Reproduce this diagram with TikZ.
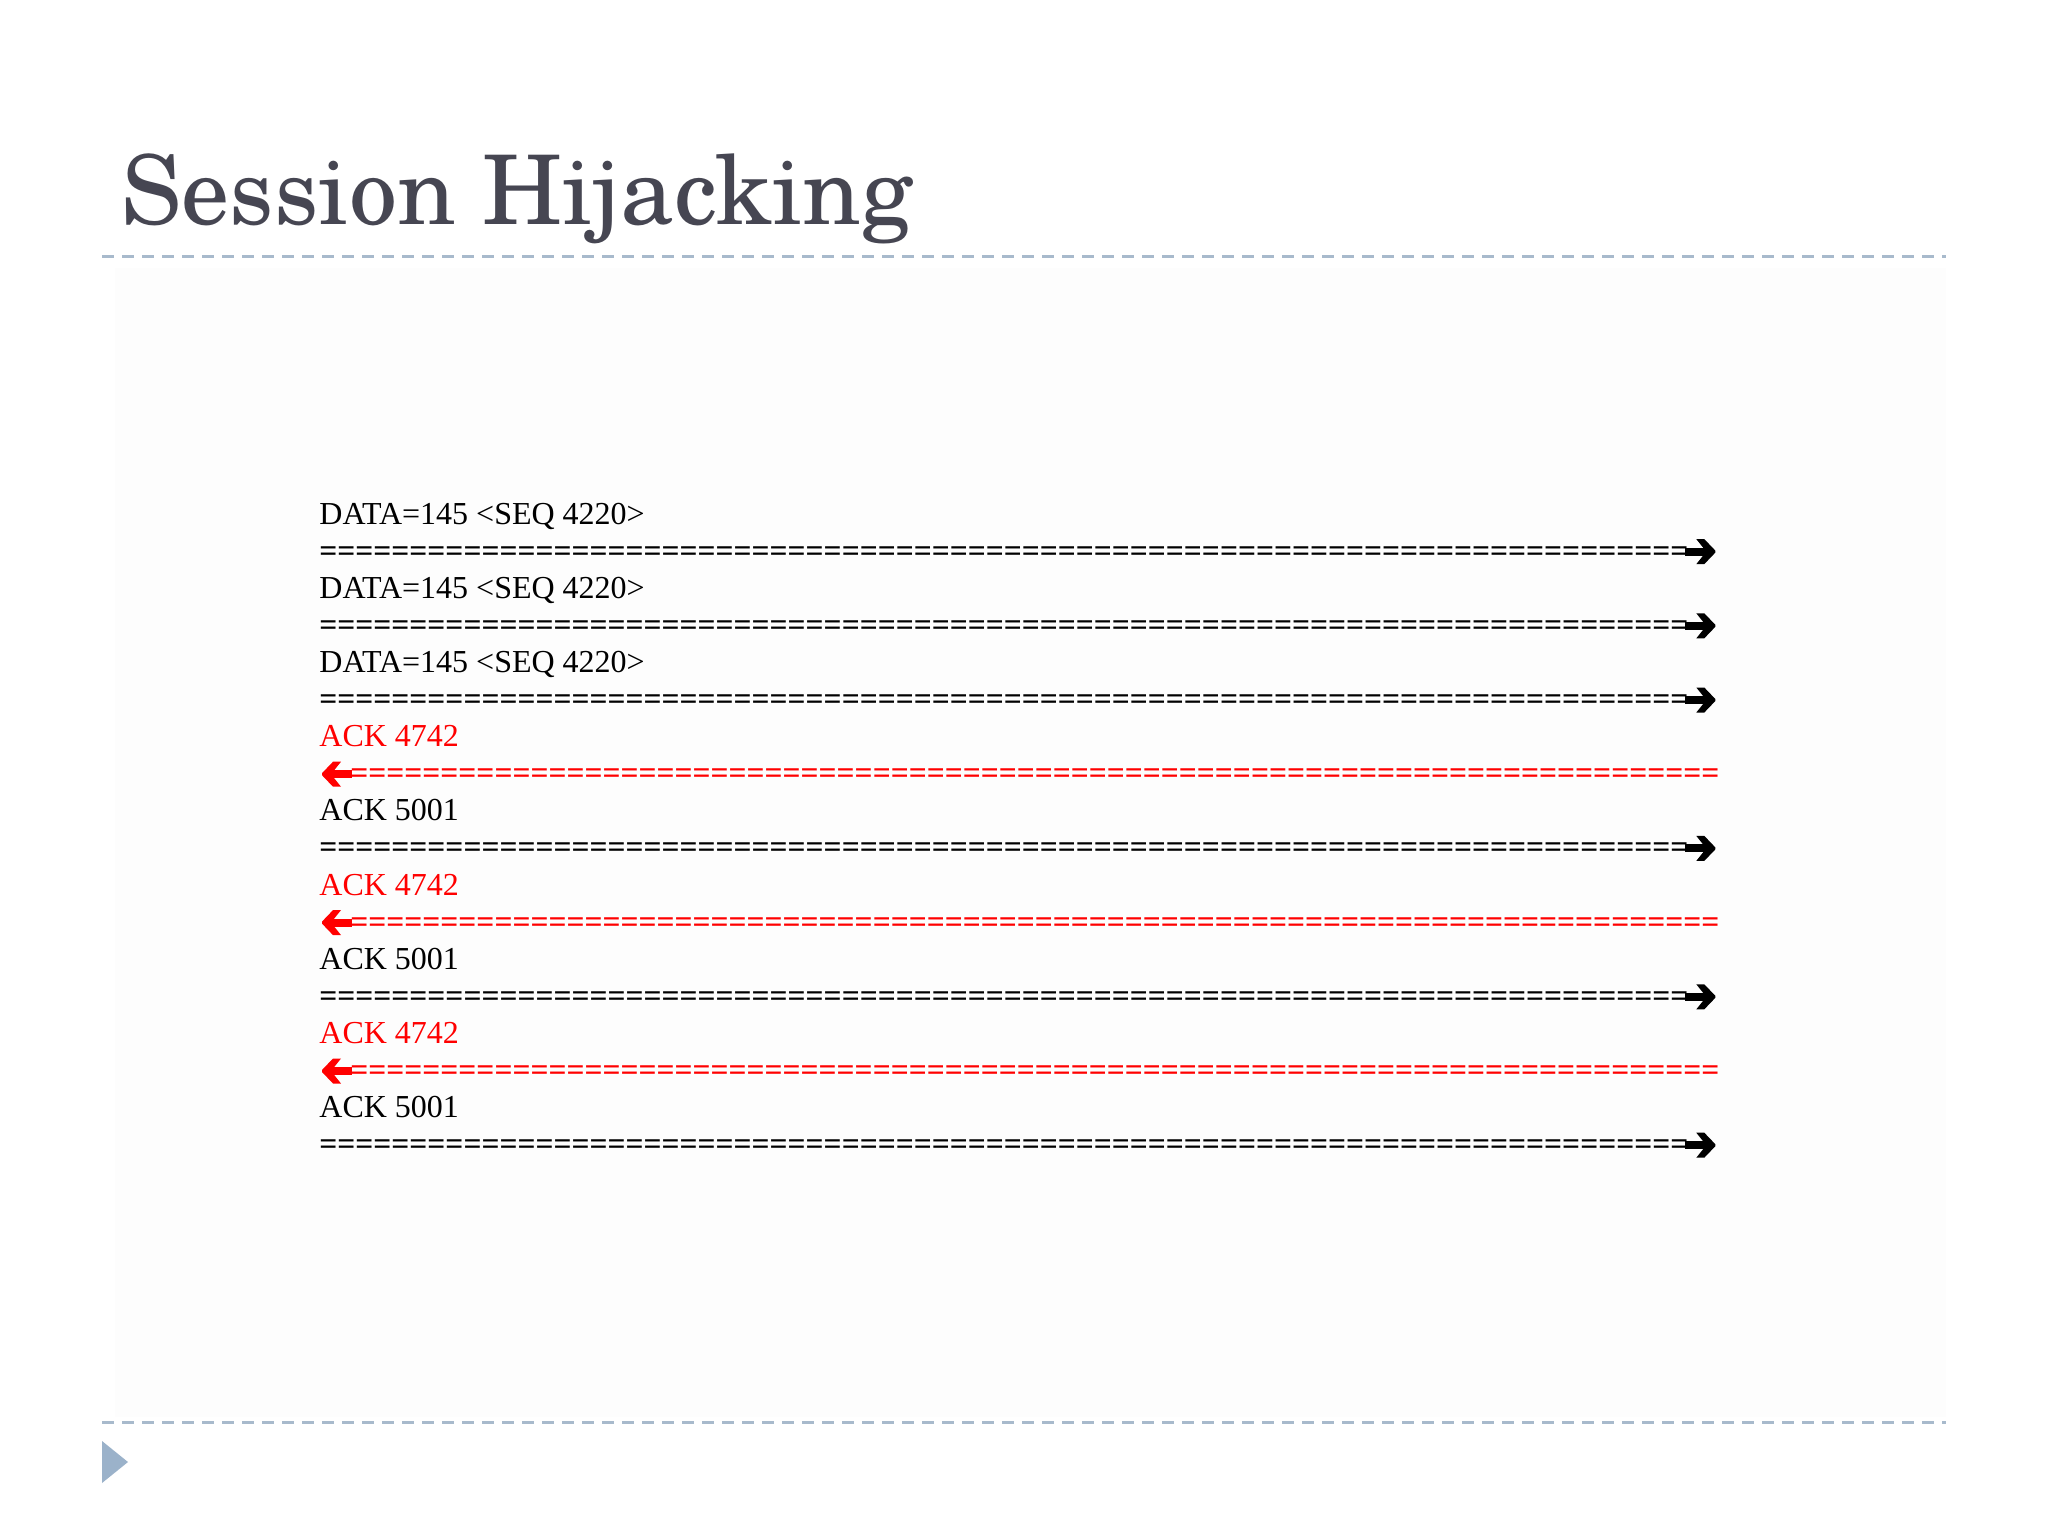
\documentclass[tikz,border=0pt]{standalone}
\usepackage{fontspec}
\setmainfont{Liberation Serif}
\newfontfamily\titlefont{TeX Gyre Schola}
\usetikzlibrary{calc}
\definecolor{titlegray}{RGB}{70,70,82}
\definecolor{rulecol}{RGB}{168,186,204}
\definecolor{tricol}{RGB}{155,178,202}
\definecolor{pagebg}{RGB}{253,253,253}
\definecolor{ackred}{RGB}{255,0,0}
\newcommand\myeqten{==========}
\newcommand\myeqrow{\myeqten\myeqten\myeqten\myeqten\myeqten\myeqten\myeqten======}
\tikzset{
  rowtext/.style={anchor=base west, inner sep=0pt, font=\fontsize{16}{19}\selectfont},
  eqtext/.style={anchor=base west, inner sep=0pt, font=\fontsize{15.8}{19}\selectfont\bfseries},
  blk/.style={rowtext, text=black},
  rd/.style={rowtext, text=ackred},
  blkeq/.style={eqtext, text=black},
  rdeq/.style={eqtext, text=ackred},
  rulestyle/.style={draw=rulecol, line width=1.5pt, dash pattern=on 6pt off 4pt},
  rightarr/.pic={
    \fill (-30,-4) rectangle (-8,4);
    \fill (0,-1) -- (-11,-12.5) -- (-19,-12.5) -- (-9,0) -- (-19,12.5) -- (-11,12.5) -- (0,1) -- cycle;
  },
}
\begin{document}
\begin{tikzpicture}[x=0.5pt,y=-0.5pt]
\useasboundingbox (0,0) rectangle (2048,1536);
\fill[white] (0,0) rectangle (2048,1536);
\fill[pagebg] (115,268) rectangle (1946,1417);
% title and rules
\node[anchor=base west, inner sep=0pt, text=titlegray, font=\titlefont\fontsize{48}{52}\selectfont] (title) at (121,224) {Session Hijacking};
\coordinate (topL) at (102,256);
\coordinate (topR) at (1946,256);
\coordinate (botL) at (102,1422);
\coordinate (botR) at (1946,1422);
\draw[rulestyle] (topL) -- (topR);
\draw[rulestyle] (botL) -- (botR);
\fill[tricol] (102,1441) -- (128,1462) -- (102,1483) -- cycle;
% rows
\node[blk] (r0) at (319,524) {DATA=145 <SEQ 4220>};
\node[blkeq] (r1) at (319,561.1) {\myeqrow};
\pic[color=black] at ($(r1.base east)+(27,-9.5)$) {rightarr};
\node[blk] (r2) at (319,598.2) {DATA=145 <SEQ 4220>};
\node[blkeq] (r3) at (319,635.3) {\myeqrow};
\pic[color=black] at ($(r3.base east)+(27,-9.5)$) {rightarr};
\node[blk] (r4) at (319,672.4) {DATA=145 <SEQ 4220>};
\node[blkeq] (r5) at (319,709.5) {\myeqrow};
\pic[color=black] at ($(r5.base east)+(27,-9.5)$) {rightarr};
\node[rd] (r6) at (319,746.6) {ACK 4742};
\node[rdeq] (r7) at (350,783.7) {\myeqrow};
\pic[color=ackred, xscale=-1] at ($(r7.base west)+(-28,-9.5)$) {rightarr};
\node[blk] (r8) at (319,820.8) {ACK 5001};
\node[blkeq] (r9) at (319,857.9) {\myeqrow};
\pic[color=black] at ($(r9.base east)+(27,-9.5)$) {rightarr};
\node[rd] (r10) at (319,895) {ACK 4742};
\node[rdeq] (r11) at (350,932.1) {\myeqrow};
\pic[color=ackred, xscale=-1] at ($(r11.base west)+(-28,-9.5)$) {rightarr};
\node[blk] (r12) at (319,969.2) {ACK 5001};
\node[blkeq] (r13) at (319,1006.3) {\myeqrow};
\pic[color=black] at ($(r13.base east)+(27,-9.5)$) {rightarr};
\node[rd] (r14) at (319,1043.4) {ACK 4742};
\node[rdeq] (r15) at (350,1080.5) {\myeqrow};
\pic[color=ackred, xscale=-1] at ($(r15.base west)+(-28,-9.5)$) {rightarr};
\node[blk] (r16) at (319,1117.6) {ACK 5001};
\node[blkeq] (r17) at (319,1154.7) {\myeqrow};
\pic[color=black] at ($(r17.base east)+(27,-9.5)$) {rightarr};
\end{tikzpicture}
\end{document}
